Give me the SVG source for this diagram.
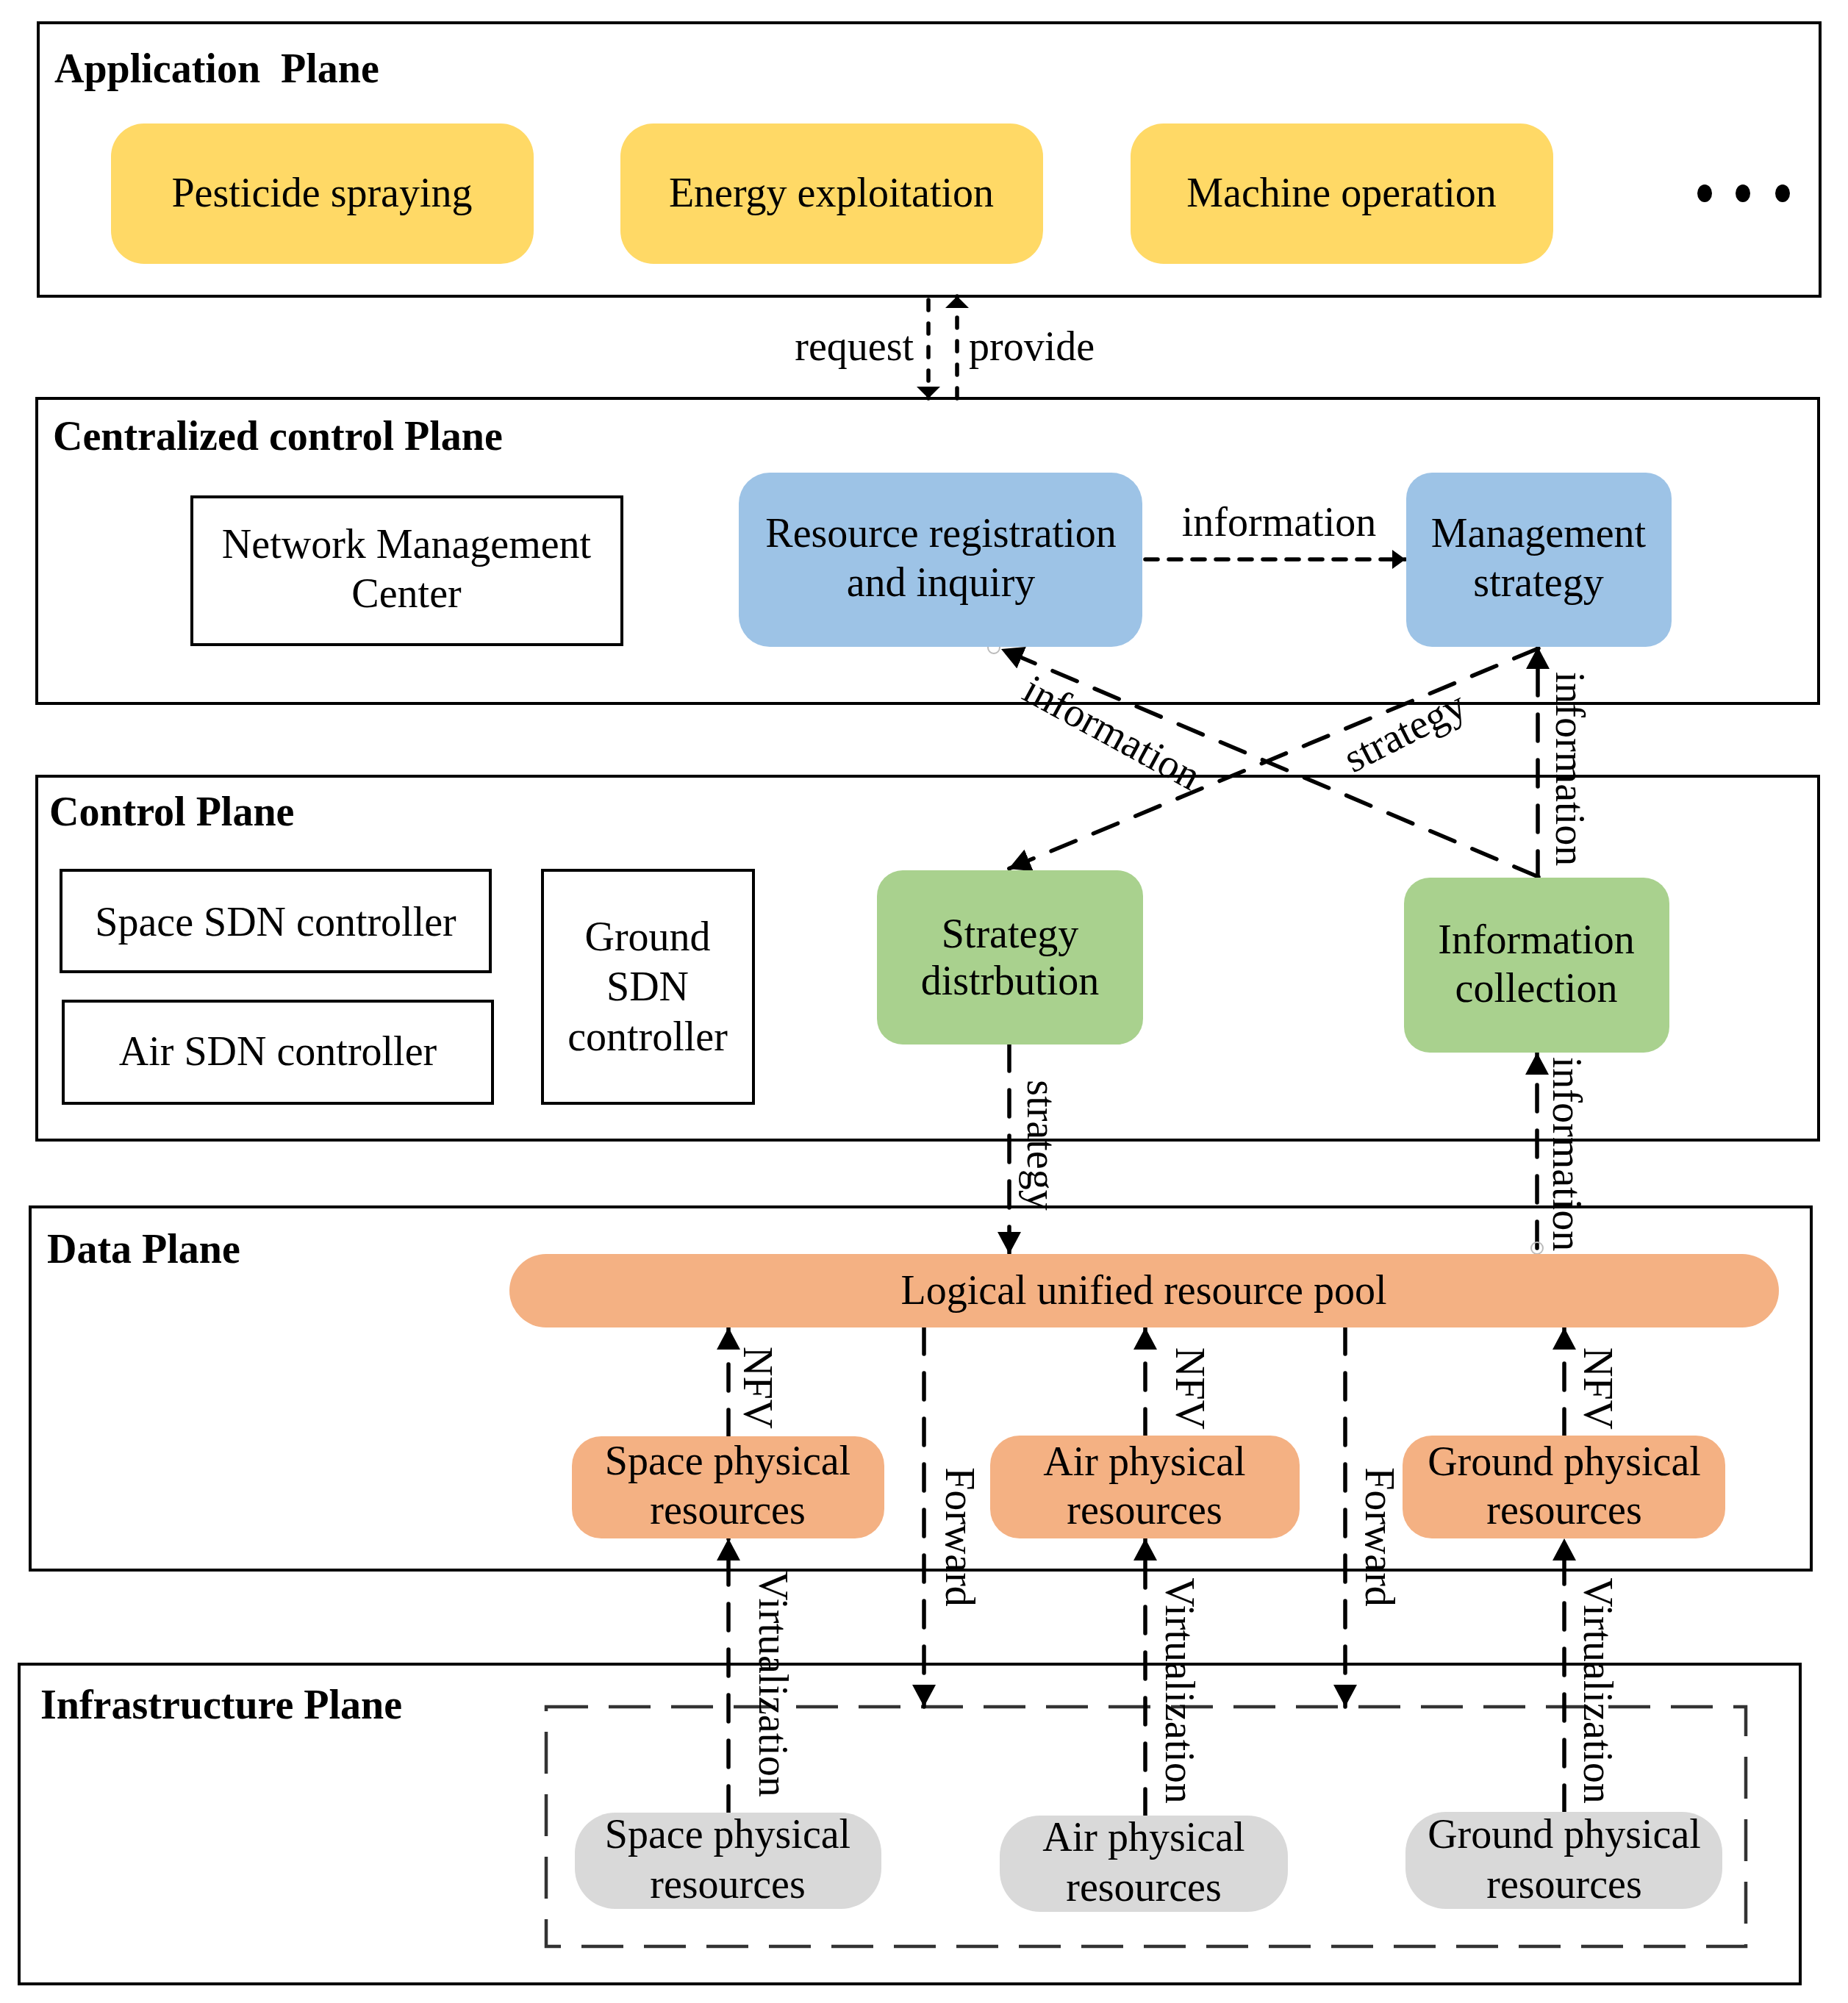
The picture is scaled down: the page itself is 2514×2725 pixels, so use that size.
<svg xmlns="http://www.w3.org/2000/svg" width="2514" height="2725" viewBox="0 0 2514 2725">
<style>
text{font-family:"Liberation Serif","Times New Roman",serif;font-size:56px;fill:#000}
.t{font-weight:bold}
.c{text-anchor:middle}
.plane{fill:#fff;stroke:#000;stroke-width:4}
.box{fill:#fff;stroke:#000;stroke-width:4}
.y{fill:#FFD966}
.b{fill:#9DC3E6}
.g{fill:#A9D18E}
.o{fill:#F4B183}
.gr{fill:#D9D9D9}
.dl{fill:none;stroke:#000;stroke-width:5.5;stroke-dasharray:36 26;stroke-linecap:round}
.ds{fill:none;stroke:#000;stroke-width:5.5;stroke-dasharray:14 18;stroke-linecap:round}
.dm{fill:none;stroke:#000;stroke-width:5.5;stroke-dasharray:17 15;stroke-linecap:round}
.ring{fill:none;stroke:#bbb;stroke-width:2}
</style>
<defs>
<marker id="ah" markerUnits="userSpaceOnUse" markerWidth="32" markerHeight="32" refX="30" refY="16" orient="auto" viewBox="0 0 32 32">
<path d="M0,0 L30,16 L0,32 z" fill="#000"/>
</marker>
<marker id="af" markerUnits="userSpaceOnUse" markerWidth="18" markerHeight="32" refX="16" refY="16" orient="auto" viewBox="0 0 18 32">
<path d="M0,0 L16,16 L0,32 z" fill="#000"/>
</marker>
<marker id="am" markerUnits="userSpaceOnUse" markerWidth="20" markerHeight="26" refX="18" refY="13" orient="auto" viewBox="0 0 20 26">
<path d="M0,0 L18,13 L0,26 z" fill="#000"/>
</marker>
</defs>

<g id="planes">
<rect id="application-plane" class="plane" x="52" y="31" width="2424" height="372"/>
<text class="t" x="74" y="112" xml:space="preserve">Application  Plane</text>
<rect id="centralized-plane" class="plane" x="50" y="542" width="2424" height="415"/>
<text class="t" x="72" y="612">Centralized control Plane</text>
<rect id="control-plane" class="plane" x="50" y="1056" width="2424" height="495"/>
<text class="t" x="67" y="1123">Control Plane</text>
<rect id="data-plane" class="plane" x="41" y="1642" width="2423" height="494"/>
<text class="t" x="64" y="1718">Data Plane</text>
<rect id="infrastructure-plane" class="plane" x="26" y="2264" width="2423" height="435"/>
<text class="t" x="55" y="2338">Infrastructure Plane</text>
<rect id="infra-group" x="743" y="2322" width="1632" height="326" fill="none" stroke="#333" stroke-width="4.5" stroke-dasharray="57 28"/>
</g>

<g id="connectors">
<path class="ds" d="M1263,408 L1263,542" marker-end="url(#af)"/>
<path class="ds" d="M1302,542 L1302,403" marker-end="url(#af)"/>
<text x="1243" y="490" text-anchor="end">request</text>
<text x="1318" y="490">provide</text>
<path class="dm" d="M1558,761 L1912,761" marker-end="url(#am)"/>
<text class="c" x="1740" y="729">information</text>
<path class="dl" d="M2093,1193 L1362,883" marker-end="url(#ah)"/>
<path class="dl" d="M2093,882 L1372,1182" marker-end="url(#ah)"/>
<path class="dl" d="M2092,1194 L2092,880" marker-end="url(#ah)"/>
<path class="dl" d="M1373,1421 L1373,1706" marker-end="url(#ah)"/>
<path class="dl" d="M2091,1698 L2091,1432" marker-end="url(#ah)"/>
<path class="dl" d="M991,1954 L991,1806" marker-end="url(#ah)"/>
<path class="dl" d="M1558,1953 L1558,1806" marker-end="url(#ah)"/>
<path class="dl" d="M2128,1953 L2128,1806" marker-end="url(#ah)"/>
<path class="dl" d="M991,2466 L991,2093" marker-end="url(#ah)"/>
<path class="dl" d="M1558,2470 L1558,2093" marker-end="url(#ah)"/>
<path class="dl" d="M2128,2465 L2128,2093" marker-end="url(#ah)"/>
<path class="dl" d="M1257,1806 L1257,2322" marker-end="url(#ah)"/>
<path class="dl" d="M1830,1806 L1830,2322" marker-end="url(#ah)"/>
<circle class="ring" cx="1352" cy="881" r="8"/>
<circle class="ring" cx="2091" cy="1698" r="8"/>
<text class="c" transform="translate(1512,998) rotate(28.5)" y="17">information</text>
<text class="c" transform="translate(1914,1001) rotate(-27)" y="12">strategy</text>
<text class="c" transform="translate(2117,1046) rotate(90)">information</text>
<text class="c" transform="translate(1398,1558) rotate(90)">strategy</text>
<text class="c" transform="translate(2113,1570) rotate(90)">information</text>
<text class="c" transform="translate(1012,1888) rotate(90)">NFV</text>
<text class="c" transform="translate(1600,1889) rotate(90)">NFV</text>
<text class="c" transform="translate(2155,1889) rotate(90)">NFV</text>
<text class="c" transform="translate(1287,2091) rotate(90)">Forward</text>
<text class="c" transform="translate(1858,2091) rotate(90)">Forward</text>
<text class="c" transform="translate(1033,2291) rotate(90)">Virtualization</text>
<text class="c" transform="translate(1586,2300) rotate(90)">Virtualization</text>
<text class="c" transform="translate(2155,2300) rotate(90)">Virtualization</text>
</g>

<g id="pesticide-spraying"><rect class="y" x="151" y="168" width="575" height="191" rx="45"/><text class="c" x="438" y="281">Pesticide spraying</text></g>
<g id="energy-exploitation"><rect class="y" x="844" y="168" width="575" height="191" rx="45"/><text class="c" x="1131" y="281">Energy exploitation</text></g>
<g id="machine-operation"><rect class="y" x="1538" y="168" width="575" height="191" rx="45"/><text class="c" x="1825" y="281">Machine operation</text></g>
<g id="more-apps"><ellipse cx="2319" cy="263" rx="10" ry="12"/><ellipse cx="2371" cy="263" rx="10" ry="12"/><ellipse cx="2425" cy="263" rx="10" ry="12"/></g>

<g id="network-management-center"><rect class="box" x="261" y="676" width="585" height="201"/><text class="c" x="553" y="759">Network Management</text><text class="c" x="553" y="826">Center</text></g>
<g id="resource-registration"><rect class="b" x="1005" y="643" width="549" height="237" rx="42"/><text class="c" x="1280" y="744">Resource registration</text><text class="c" x="1280" y="811">and inquiry</text></g>
<g id="management-strategy"><rect class="b" x="1913" y="643" width="361" height="237" rx="35"/><text class="c" x="2093" y="744">Management</text><text class="c" x="2093" y="811">strategy</text></g>

<g id="space-sdn-controller"><rect class="box" x="83" y="1184" width="584" height="138"/><text class="c" x="375" y="1273">Space SDN controller</text></g>
<g id="air-sdn-controller"><rect class="box" x="86" y="1362" width="584" height="139"/><text class="c" x="378" y="1449">Air SDN controller</text></g>
<g id="ground-sdn-controller"><rect class="box" x="738" y="1184" width="287" height="317"/><text class="c" x="881" y="1293">Ground</text><text class="c" x="881" y="1361">SDN</text><text class="c" x="881" y="1429">controller</text></g>
<g id="strategy-distribution"><rect class="g" x="1193" y="1184" width="362" height="237" rx="35"/><text class="c" x="1374" y="1289">Strategy</text><text class="c" x="1374" y="1353">distrbution</text></g>
<g id="information-collection"><rect class="g" x="1910" y="1194" width="361" height="238" rx="35"/><text class="c" x="2090" y="1297">Information</text><text class="c" x="2090" y="1363">collection</text></g>

<g id="resource-pool"><rect class="o" x="693" y="1706" width="1727" height="100" rx="50"/><text class="c" x="1556" y="1774">Logical unified resource pool</text></g>
<g id="space-physical-data"><rect class="o" x="778" y="1954" width="425" height="139" rx="40"/><text class="c" x="990" y="2006">Space physical</text><text class="c" x="990" y="2073">resources</text></g>
<g id="air-physical-data"><rect class="o" x="1347" y="1953" width="421" height="140" rx="40"/><text class="c" x="1557" y="2007">Air physical</text><text class="c" x="1557" y="2073">resources</text></g>
<g id="ground-physical-data"><rect class="o" x="1908" y="1953" width="439" height="140" rx="40"/><text class="c" x="2128" y="2007">Ground physical</text><text class="c" x="2128" y="2073">resources</text></g>

<g id="space-physical-infra"><rect class="gr" x="782" y="2466" width="417" height="131" rx="55"/><text class="c" x="990" y="2514">Space physical</text><text class="c" x="990" y="2582">resources</text></g>
<g id="air-physical-infra"><rect class="gr" x="1360" y="2470" width="392" height="131" rx="55"/><text class="c" x="1556" y="2518">Air physical</text><text class="c" x="1556" y="2586">resources</text></g>
<g id="ground-physical-infra"><rect class="gr" x="1912" y="2465" width="431" height="132" rx="55"/><text class="c" x="2128" y="2514">Ground physical</text><text class="c" x="2128" y="2582">resources</text></g>
</svg>
